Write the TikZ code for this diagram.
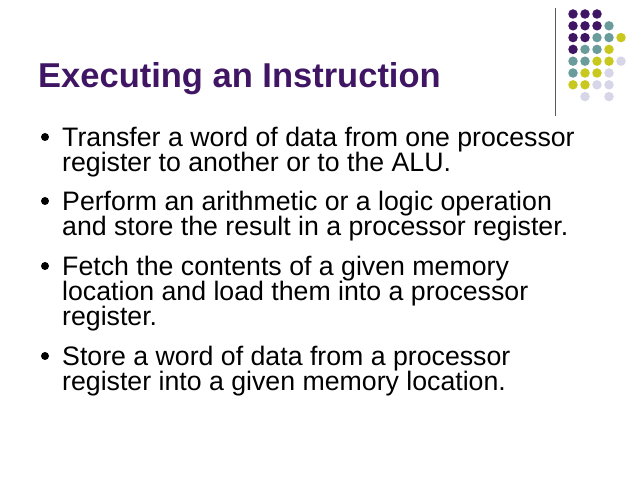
\documentclass[tikz,border=0pt]{standalone}
\usepackage{fontspec}
\setmainfont{Liberation Sans}
\definecolor{pp}{HTML}{3F1564}
\definecolor{tl}{HTML}{6A9C9C}
\definecolor{yl}{HTML}{C8C81E}
\definecolor{lv}{HTML}{D6D6E8}
\tikzset{txt/.style={anchor=base west,inner sep=0pt,font=\fontsize{26.7}{30}\selectfont},
bul/.style={circle,fill=black,inner sep=0pt,minimum size=8pt},
dot/.style={circle,inner sep=0pt,minimum size=9.5pt}}
\begin{document}
\begin{tikzpicture}[x=1pt,y=-1pt]
\useasboundingbox (0,0) rectangle (638,478);
\draw[gray!70!black,line width=0.8pt] (555,8) -- (555,116);
\foreach \row/\cols in {0/{0/pp,1/pp,2/pp},1/{0/pp,1/pp,2/pp,3/tl},2/{0/pp,1/pp,2/tl,3/tl,4/yl},3/{0/pp,1/tl,2/tl,3/yl},4/{0/tl,1/tl,2/yl,3/yl,4/lv},5/{0/tl,1/yl,2/yl,3/lv},6/{0/yl,1/yl,2/lv,3/lv},7/{1/lv,3/lv}}{
 \foreach \c/\col in \cols { \node[dot,fill=\col] at (573+12*\c,14+11.8*\row) {}; } }
\node[anchor=base west,inner sep=0pt,text=pp,font=\fontsize{34.5}{38}\selectfont\bfseries] (title) at (38,88) {Executing an Instruction};
\foreach \y/\t [count=\i] in {147/{Transfer a word of data from one processor},172/{register to another or to the ALU.},211/{Perform an arithmetic or a logic operation},236/{and store the result in a processor register.},276/{Fetch the contents of a given memory},301/{location and load them into a processor},326/{register.},366/{Store a word of data from a processor},391/{register into a given memory location.}}
 { \node[txt] (l\i) at (62,\y) {\t}; }
\foreach \y [count=\i] in {137,201,266,356} { \node[bul] (b\i) at (45,\y) {}; }
\end{tikzpicture}
\end{document}
